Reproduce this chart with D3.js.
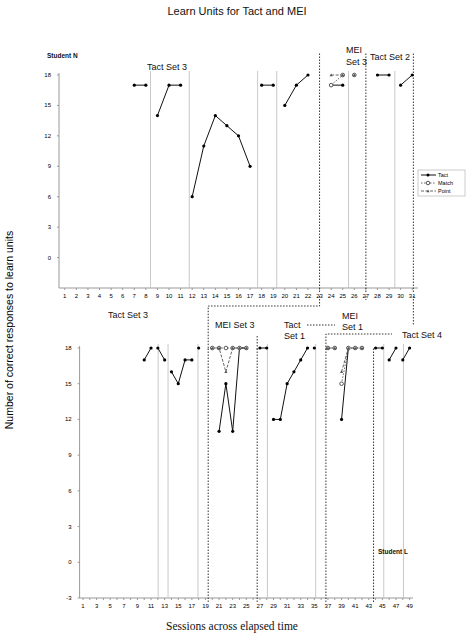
<!DOCTYPE html><html><head><meta charset="utf-8"><script src="https://cdn.jsdelivr.net/npm/d3@7"></script>
<style>body{margin:0;background:#fff}</style></head><body><svg id="c" width="474" height="637"></svg>
<script>
// Data
const topTact=[[7,17],[8,17],null,[9,14],[10,17],[11,17],null,[12,6],[13,11],[14,14],[15,13],[16,12],[17,9],null,[18,17],[19,17],null,[20,15],[21,17],[22,18],null,[24,17],[25,17],null,[28,18],[29,18],null,[30,17],[31,18]];
const topMatch=[[24,17],[25,18],null,[26,18]];
const topPoint=[[24,18],[25,18],null,[26,18]];
const botTact=[[10,17],[11,18],null,[12,18],[13,17],null,[14,16],[15,15],[16,17],[17,17],null,[18,18],null,[21,11],[22,15],[23,11],[24,18],[25,18],null,[27,18],[28,18],null,[29,12],[30,12],[31,15],[32,16],[33,17],[34,18],null,[35,18],null,[39,12],[40,18],null,[44,18],[45,18],null,[46,17],[47,18],null,[48,17],[49,18]];
const botMatch=[[20,18],[21,18],[22,18],[23,18],[24,18],[25,18],null,[37,18],[38,18],null,[39,15],[40,18],[41,18],[42,18]];
const botPoint=[[20,18],[21,18],[22,16],[23,18],[24,18],[25,18],null,[37,18],[38,18],null,[39,16],[40,18],[41,18],[42,18]];
const topSolid=[8.4,11.75,17.65,19.3,25.5,29.5], topDotted=[23,27,31.1];
const botSolid=[12.05,13.5,17.9,28.1,35.2,45.2,48.1], botDotted=[19.4,26.6,36.7,43.7];
const yTicks=[0,3,6,9,12,15,18];

const svg=d3.select("#c");
function panel(o){
  const x=d3.scaleLinear().domain([0.5,o.n+0.5]).range([o.x0,o.x1]);
  const y=d3.scaleLinear().domain([-3,18]).range([o.yb,o.yt]);
  const g=svg.append("g");
  g.append("line").attr("x1",x(0.5)).attr("x2",x(0.5)).attr("y1",y(-3)).attr("y2",y(18)-2).attr("stroke","#999");
  g.append("line").attr("x1",x(0.5)).attr("x2",x(o.n+0.5)).attr("y1",y(-3)).attr("y2",y(-3)).attr("stroke","#999");
  d3.range(1,o.n+1).forEach(s=>g.append("line").attr("x1",x(s)).attr("x2",x(s)).attr("y1",y(-3)).attr("y2",y(-3)+2).attr("stroke","#999"));
  yTicks.concat(o.neg?[-3]:[]).forEach(v=>{
    g.append("line").attr("x1",x(0.5)-2).attr("x2",x(0.5)).attr("y1",y(v)).attr("y2",y(v)).attr("stroke","#999");
    g.append("text").attr("x",x(0.5)-8).attr("y",y(v)+2).attr("text-anchor","end").attr("font-size",6).attr("font-family","Liberation Sans").text(v);});
  d3.range(1,o.n+1).filter(s=>o.step==1||s%2==1).forEach(s=>g.append("text").attr("x",x(s)).attr("y",y(-3)+10).attr("text-anchor","middle").attr("font-size",6).attr("font-family","Liberation Sans").text(s));
  o.solid.forEach(s=>g.append("line").attr("x1",x(s)).attr("x2",x(s)).attr("y1",y(-3)).attr("y2",y(18)-4).attr("stroke","#bbb").attr("stroke-width",0.8));
  o.dotted.forEach(s=>g.append("line").attr("x1",x(s)).attr("x2",x(s)).attr("y1",y(-3)+4).attr("y2",y(18)-o.dotTop).attr("stroke","#333").attr("stroke-dasharray","1.5,1.5"));
  const ln=d3.line().defined(d=>d).x(d=>x(d[0])).y(d=>y(d[1]));
  g.append("path").attr("d",ln(o.match)).attr("fill","none").attr("stroke","#666").attr("stroke-dasharray","1.5,1.5");
  g.append("path").attr("d",ln(o.point)).attr("fill","none").attr("stroke","#666").attr("stroke-dasharray","3,1.5");
  g.append("path").attr("d",ln(o.tact)).attr("fill","none").attr("stroke","#111").attr("stroke-width",1);
  g.selectAll(".t").data(o.tact.filter(d=>d)).join("circle").attr("cx",d=>x(d[0])).attr("cy",d=>y(d[1])).attr("r",1.6).attr("fill","#000");
  g.selectAll(".m").data(o.match.filter(d=>d)).join("circle").attr("cx",d=>x(d[0])).attr("cy",d=>y(d[1])).attr("r",1.8).attr("fill","#fff").attr("stroke","#555");
  g.selectAll(".p").data(o.point.filter(d=>d)).join("path").attr("d",d=>`M${x(d[0])-1.6},${y(d[1])+1.2}L${x(d[0])},${y(d[1])-1.6}L${x(d[0])+1.6},${y(d[1])+1.2}Z`).attr("fill","#555");
  return {x,y};
}
const T=panel({n:31,x0:59,x1:418,yt:75,yb:288,step:1,solid:topSolid,dotted:topDotted,tact:topTact,match:topMatch,point:topPoint,dotTop:22});
const B=panel({n:49,x0:79.6,x1:413,yt:348,yb:598,step:2,neg:true,solid:botSolid,dotted:botDotted,tact:botTact,match:botMatch,point:botPoint,dotTop:0});
const dash={stroke:"#333","stroke-dasharray":"1.5,1.5",fill:"none"};
function pl(pts){const p=svg.append("path").attr("d",d3.line()(pts));Object.entries(dash).forEach(([k,v])=>p.attr(k,v));}
pl([[T.x(23),296],[T.x(23),306],[B.x(19.4),306],[B.x(19.4),350]]);
pl([[T.x(27),296],[T.x(27),300]]);
pl([[T.x(31.1),296],[T.x(31.1),325]]);
pl([[B.x(36.7),350],[B.x(36.7),334],[392,334]]);
pl([[307,325],[335,325]]);
pl([[B.x(26.6),336],[B.x(26.6),350]]);
function txt(x,y,s,o={}){svg.append("text").attr("x",x).attr("y",y).attr("font-size",o.fs||9).attr("font-family",o.ff||"Liberation Sans").attr("font-weight",o.fw||"normal").attr("text-anchor",o.a||"start").attr("fill","#111").text(s);}
txt(237,15,"Learn Units for Tact and MEI",{fs:11,a:"middle"});
txt(47,58,"Student N",{fs:6.5,fw:"bold"});
txt(147,70,"Tact Set 3");
txt(346,53,"MEI");txt(346,65,"Set 3");
txt(370,60,"Tact Set 2");
txt(108,318,"Tact Set 3");
txt(215,328,"MEI Set 3");
txt(284,328,"Tact");txt(284,339,"Set 1");
txt(342,319,"MEI");txt(342,330,"Set 1");
txt(402,338,"Tact Set 4");
txt(378,554,"Student L",{fs:6.5,fw:"bold"});
txt(232,630,"Sessions across elapsed time",{fs:11.5,ff:"Liberation Serif",a:"middle"});
svg.append("text").attr("transform","translate(13,330) rotate(-90)").attr("text-anchor","middle").attr("font-size",10.5).attr("font-family","Liberation Sans").text("Number of correct responses to learn units");
const lg=svg.append("g").attr("transform","translate(418,170)");
lg.append("rect").attr("width",47).attr("height",26).attr("fill","#fff").attr("stroke","#999").attr("stroke-width",0.5);
[["Tact","#111",null],["Match","#666","1.5,1.5"],["Point","#666","3,1.5"]].forEach((d,i)=>{
  const yy=5+i*8;
  lg.append("line").attr("x1",3).attr("x2",18).attr("y1",yy).attr("y2",yy).attr("stroke",d[1]).attr("stroke-dasharray",d[2]);
  if(i==0)lg.append("circle").attr("cx",10).attr("cy",yy).attr("r",1.5);
  if(i==1)lg.append("circle").attr("cx",10).attr("cy",yy).attr("r",1.8).attr("fill","#fff").attr("stroke","#555");
  if(i==2)lg.append("path").attr("d",`M8.5,${yy+1.2}L10,${yy-1.5}L11.5,${yy+1.2}Z`).attr("fill","#555");
  lg.append("text").attr("x",20).attr("y",yy+2).attr("font-size",5.5).attr("font-family","Liberation Sans").text(d[0]);
});
</script></body></html>
